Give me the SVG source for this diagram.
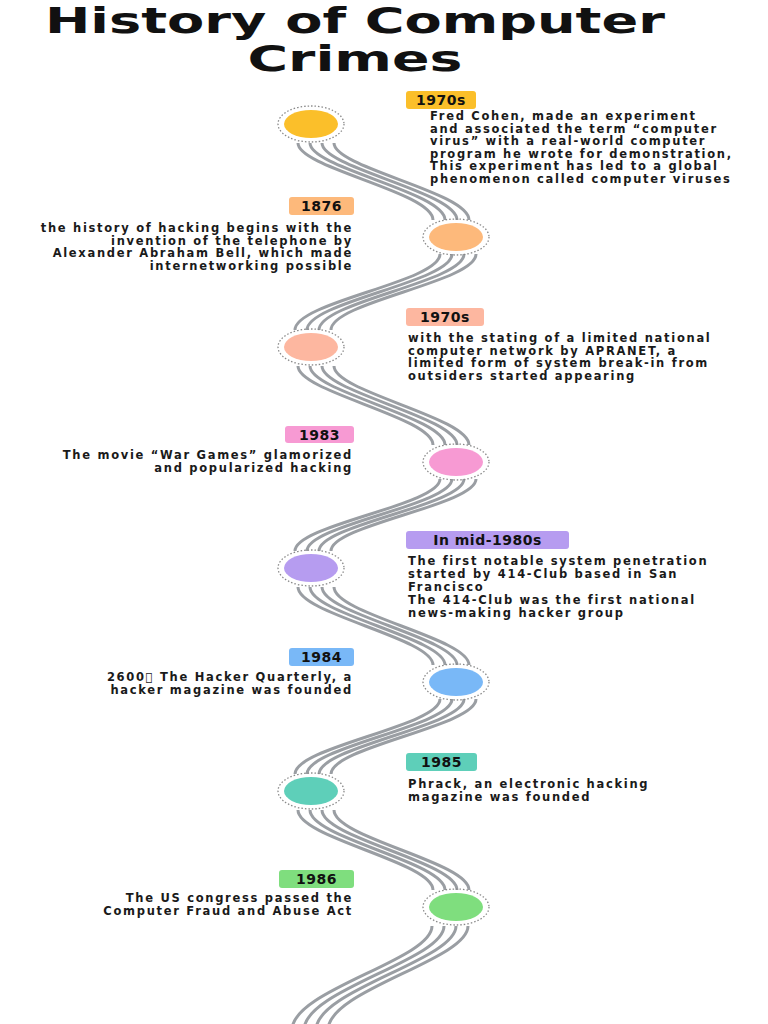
<svg xmlns="http://www.w3.org/2000/svg" width="768" height="1024" viewBox="0 0 768 1024">
<style>
.title{font-family:"DejaVu Sans",sans-serif;font-weight:bold;font-size:35px;fill:#111}
.b{font-family:"DejaVu Sans",sans-serif;font-weight:bold;font-size:11.5px;letter-spacing:1.7px;fill:#1a1a1a}
.r{text-anchor:end}
.bt{font-family:"DejaVu Sans",sans-serif;font-weight:bold;font-size:14px;letter-spacing:0.5px;text-anchor:middle;fill:#111}
.ring{fill:none;stroke:#888;stroke-width:1.3;stroke-dasharray:1.5 2}
.w path{fill:none;stroke:#9a9ea3;stroke-width:3}
</style>
<rect width="768" height="1024" fill="#fff"/>
<text class="title" x="355" y="33" text-anchor="middle" textLength="620" lengthAdjust="spacingAndGlyphs">History of Computer</text>
<text class="title" x="355" y="71" text-anchor="middle" textLength="215" lengthAdjust="spacingAndGlyphs">Crimes</text>
<g id="connectors" class="w">
<g id="c1">
<path d="M298 143 C298 168 433 192 433 220"/><path d="M310 143 C310 168 445 192 445 220"/><path d="M322 143 C322 168 457 192 457 220"/><path d="M334 143 C334 168 469 192 469 220"/>
</g>
<g id="c2">
<path d="M440 254 C440 282 295 302 295 330"/><path d="M452 254 C452 282 307 302 307 330"/><path d="M464 254 C464 282 319 302 319 330"/><path d="M476 254 C476 282 331 302 331 330"/>
</g>
<g id="c3">
<path d="M298 366 C298 392 433 417 433 445"/><path d="M310 366 C310 392 445 417 445 445"/><path d="M322 366 C322 392 457 417 457 445"/><path d="M334 366 C334 392 469 417 469 445"/>
</g>
<g id="c4">
<path d="M440 479 C440 505 295 525 295 551"/><path d="M452 479 C452 505 307 525 307 551"/><path d="M464 479 C464 505 319 525 319 551"/><path d="M476 479 C476 505 331 525 331 551"/>
</g>
<g id="c5">
<path d="M298 587 C298 614 433 638 433 665"/><path d="M310 587 C310 614 445 638 445 665"/><path d="M322 587 C322 614 457 638 457 665"/><path d="M334 587 C334 614 469 638 469 665"/>
</g>
<g id="c6">
<path d="M440 699 C440 726 295 747 295 774"/><path d="M452 699 C452 726 307 747 307 774"/><path d="M464 699 C464 726 319 747 319 774"/><path d="M476 699 C476 726 331 747 331 774"/>
</g>
<g id="c7">
<path d="M298 810 C298 838 433 862 433 890"/><path d="M310 810 C310 838 445 862 445 890"/><path d="M322 810 C322 838 457 862 457 890"/><path d="M334 810 C334 838 469 862 469 890"/>
</g>
<g id="c8">
<path d="M432 926 C432 960 292 990 292 1030"/><path d="M444 926 C444 960 304 990 304 1030"/><path d="M456 926 C456 960 316 990 316 1030"/><path d="M468 926 C468 960 328 990 328 1030"/>
</g>
</g>
<g id="n1"><ellipse class="ring" cx="311" cy="124" rx="33" ry="18"/><ellipse cx="311" cy="124" rx="27" ry="14" fill="#FBBF2A"/>
<rect x="406" y="91" width="70" height="18" rx="3" fill="#FBBF2A"/><text class="bt" x="441" y="105">1970s</text>
<text class="b" x="430" y="120"> Fred Cohen, made an experiment</text>
<text class="b" x="430" y="132.5">and associated the term “computer</text>
<text class="b" x="430" y="145">virus” with a real-world computer</text>
<text class="b" x="430" y="157.5">program he wrote for demonstration,</text>
<text class="b" x="430" y="170">This experiment has led to a global</text>
<text class="b" x="430" y="182.5">phenomenon called computer viruses</text></g>
<g id="n2"><ellipse class="ring" cx="456" cy="237" rx="33" ry="18"/><ellipse cx="456" cy="237" rx="27" ry="14" fill="#FDB97B"/>
<rect x="289" y="197" width="65" height="18" rx="3" fill="#FDB97B"/><text class="bt" x="321.5" y="211">1876</text>
<text class="b r" x="353" y="232">the history of hacking begins with the</text>
<text class="b r" x="353" y="244.5">invention of the telephone by</text>
<text class="b r" x="353" y="257">Alexander Abraham Bell, which made</text>
<text class="b r" x="353" y="269.5">internetworking possible</text></g>
<g id="n3"><ellipse class="ring" cx="311" cy="347" rx="33" ry="18"/><ellipse cx="311" cy="347" rx="27" ry="14" fill="#FDB7A0"/>
<rect x="406" y="308" width="78" height="18" rx="3" fill="#FDB7A0"/><text class="bt" x="445" y="322">1970s</text>
<text class="b" x="408" y="342"> with the stating of a limited national</text>
<text class="b" x="408" y="354.5">computer network by APRANET, a</text>
<text class="b" x="408" y="367">limited form of system break-in from</text>
<text class="b" x="408" y="379.5">outsiders started appearing</text></g>
<g id="n4"><ellipse class="ring" cx="456" cy="462" rx="33" ry="18"/><ellipse cx="456" cy="462" rx="27" ry="14" fill="#F79AD3"/>
<rect x="285" y="426" width="69" height="17" rx="3" fill="#F79AD3"/><text class="bt" x="319.5" y="440">1983</text>
<text class="b r" x="353" y="459">The movie “War Games” glamorized</text>
<text class="b r" x="353" y="472">and popularized hacking</text></g>
<g id="n5"><ellipse class="ring" cx="311" cy="568" rx="33" ry="18"/><ellipse cx="311" cy="568" rx="27" ry="14" fill="#B69CF0"/>
<rect x="406" y="531" width="163" height="18" rx="3" fill="#B69CF0"/><text class="bt" x="487.5" y="545">In mid-1980s</text>
<text class="b" x="408" y="565"> The first notable system penetration</text>
<text class="b" x="408" y="578">started by 414-Club based in San</text>
<text class="b" x="408" y="591">Francisco</text>
<text class="b" x="408" y="604">The 414-Club was the first national</text>
<text class="b" x="408" y="617">news-making hacker group</text></g>
<g id="n6"><ellipse class="ring" cx="456" cy="682" rx="33" ry="18"/><ellipse cx="456" cy="682" rx="27" ry="14" fill="#79B8F7"/>
<rect x="289" y="648" width="65" height="18" rx="3" fill="#79B8F7"/><text class="bt" x="321.5" y="662">1984</text>
<text class="b r" x="353" y="681">2600&#xE000; The Hacker Quarterly, a</text>
<text class="b r" x="353" y="693.5">hacker magazine was founded</text></g>
<g id="n7"><ellipse class="ring" cx="311" cy="791" rx="33" ry="18"/><ellipse cx="311" cy="791" rx="27" ry="14" fill="#5ECFB9"/>
<rect x="406" y="753" width="71" height="18" rx="3" fill="#5ECFB9"/><text class="bt" x="441.5" y="767">1985</text>
<text class="b" x="408" y="788">Phrack, an electronic hacking</text>
<text class="b" x="408" y="801">magazine was founded</text></g>
<g id="n8"><ellipse class="ring" cx="456" cy="907" rx="33" ry="18"/><ellipse cx="456" cy="907" rx="27" ry="14" fill="#7FDE7E"/>
<rect x="279" y="870" width="75" height="18" rx="3" fill="#7FDE7E"/><text class="bt" x="316.5" y="884">1986</text>
<text class="b r" x="353" y="902">The US congress passed the</text>
<text class="b r" x="353" y="915">Computer Fraud and Abuse Act</text></g>
</svg>
